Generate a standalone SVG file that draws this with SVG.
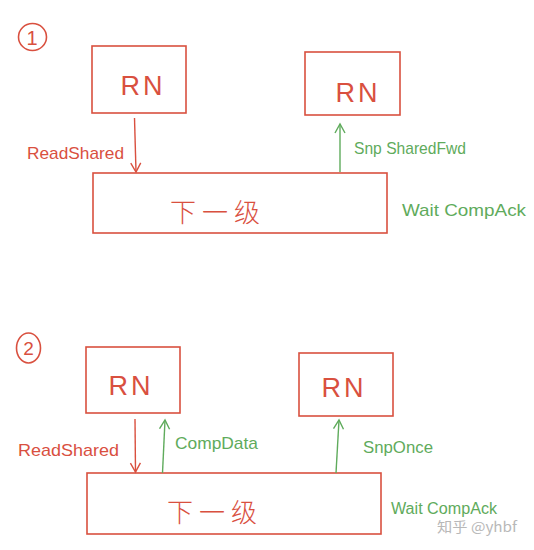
<svg xmlns="http://www.w3.org/2000/svg" width="534" height="550" viewBox="0 0 534 550">
<style>
.box{fill:none;stroke:#d9503f;stroke-width:1.6}
.red{fill:#d9503f;font-family:"Liberation Sans","Noto Sans CJK SC",sans-serif}
.green{fill:#5fab5c;font-family:"Liberation Sans",sans-serif}
.rn{font-size:27px;text-anchor:middle;letter-spacing:3px}
.cn{font-size:26px;letter-spacing:6px;font-family:"Noto Sans CJK SC",sans-serif;font-weight:300}
.lbl{font-size:17px}
.rline{stroke:#d9503f;stroke-width:1.4;fill:none}
.gline{stroke:#5fab5c;stroke-width:1.4;fill:none}
.num{fill:none;stroke:#d9503f;stroke-width:1.6}
</style>
<defs>
<marker id="ar" markerWidth="12" markerHeight="12" refX="10" refY="6" orient="auto" markerUnits="userSpaceOnUse">
<path d="M1,1 L10,6 L1,11" fill="none" stroke="#d9503f" stroke-width="1.4"/>
</marker>
<marker id="ag" markerWidth="12" markerHeight="12" refX="10" refY="6" orient="auto" markerUnits="userSpaceOnUse">
<path d="M1,1 L10,6 L1,11" fill="none" stroke="#5fab5c" stroke-width="1.4"/>
</marker>
</defs>

<g id="label1">
<ellipse class="num" cx="32.5" cy="37" rx="14" ry="13.5"/>
<text class="red" x="32" y="45" font-size="20" text-anchor="middle">1</text>
</g>
<g id="rn1a">
<rect class="box" x="92" y="46" width="94" height="67"/>
<text class="red rn" x="143" y="95">RN</text>
</g>
<g id="rn1b">
<rect class="box" x="305" y="52" width="95" height="63"/>
<text class="red rn" x="358" y="102">RN</text>
</g>
<g id="next1">
<rect class="box" x="93" y="173" width="294" height="60"/>
<text class="red cn" x="170" y="222">下一级</text>
</g>

<g id="label2">
<ellipse class="num" cx="28.5" cy="348" rx="12" ry="15"/>
<text class="red" x="28.5" y="355" font-size="19" text-anchor="middle">2</text>
</g>
<g id="rn2a">
<rect class="box" x="86" y="347" width="94" height="66"/>
<text class="red rn" x="131" y="395">RN</text>
</g>
<g id="rn2b">
<rect class="box" x="299" y="353" width="94" height="63"/>
<text class="red rn" x="344" y="397">RN</text>
</g>
<g id="next2">
<rect class="box" x="87" y="473" width="294" height="61"/>
<text class="red cn" x="167" y="522">下一级</text>
</g>

<g id="connectors">
<line class="rline" x1="134.5" y1="118" x2="136" y2="172" marker-end="url(#ar)"/>
<line class="gline" x1="340" y1="172" x2="340" y2="124" marker-end="url(#ag)"/>
<line class="rline" x1="135" y1="419" x2="135.5" y2="472" marker-end="url(#ar)"/>
<line class="gline" x1="162.5" y1="473" x2="165" y2="420" marker-end="url(#ag)"/>
<line class="gline" x1="336" y1="473" x2="339" y2="420" marker-end="url(#ag)"/>
</g>

<g id="labels">
<text class="red lbl" x="27" y="159" textLength="97" lengthAdjust="spacingAndGlyphs">ReadShared</text>
<text class="green lbl" x="354" y="154" textLength="112" lengthAdjust="spacingAndGlyphs">Snp SharedFwd</text>
<text class="green lbl" x="402" y="216" textLength="124" lengthAdjust="spacingAndGlyphs">Wait CompAck</text>
<text class="red lbl" x="18" y="456" textLength="101" lengthAdjust="spacingAndGlyphs">ReadShared</text>
<text class="green lbl" x="175" y="449" textLength="83" lengthAdjust="spacingAndGlyphs">CompData</text>
<text class="green lbl" x="363" y="453" textLength="70" lengthAdjust="spacingAndGlyphs">SnpOnce</text>
<text class="green" x="391" y="514" font-size="16" textLength="106" lengthAdjust="spacingAndGlyphs">Wait CompAck</text>
<text x="437" y="532" font-size="14" fill="#b8b8b8" font-family="'Noto Sans CJK SC','Liberation Sans',sans-serif" textLength="80" lengthAdjust="spacingAndGlyphs">知乎 @yhbf</text>
</g>
</svg>
